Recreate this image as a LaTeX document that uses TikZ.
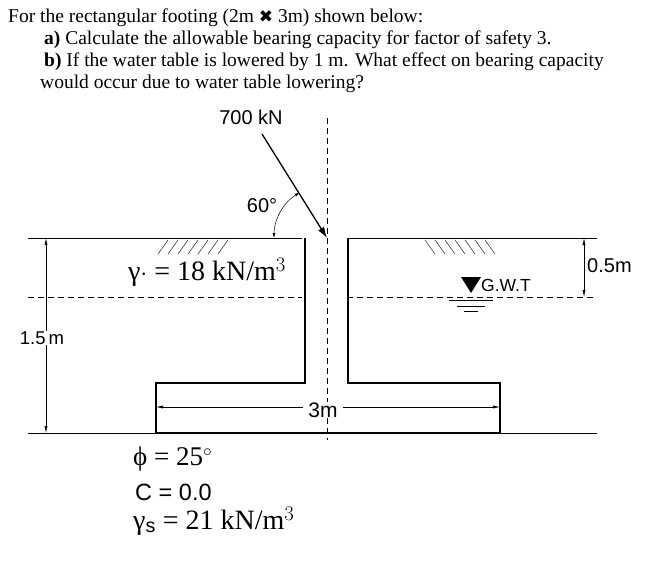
\documentclass[tikz,border=0pt]{standalone}
\usepackage{fontspec}
\setmainfont{Liberation Serif}
\newfontfamily\arialf{Liberation Sans}
\newfontfamily\djv{DejaVu Sans}
\usetikzlibrary{arrows.meta}
\newcommand{\fsz}[1]{\fontsize{#1pt}{#1pt}\selectfont}
\begin{document}
\begin{tikzpicture}[x=1pt,y=-1pt,
  lbl/.style={font=\arialf\fsz{20},inner sep=0},
  hd/.style={font=\fsz{19.5},inner sep=0,anchor=west},
  thick2/.style={line width=1.6pt},
  dim/.style={line width=0.5pt,{Latex[length=7pt,width=3pt]}-{Latex[length=7pt,width=3pt]}},
  gw/.style={dashed,dash pattern=on 6pt off 4pt,line width=0.5pt}]
\useasboundingbox (0,0) rectangle (652,581);
% header
\node[hd] (h1) at (8,18) {For the rectangular footing (2m {\djv\fsz{17}✖} 3m) shown below:};
\node[hd] (h2) at (44,40) {\textbf{a)} Calculate the allowable bearing capacity for factor of safety 3.};
\node[hd] (h3) at (44,62) {\textbf{b)} If the water table is lowered by 1 m. What effect on bearing capacity};
\node[hd] (h4) at (40,84) {would occur due to water table lowering?};
% ground
\coordinate (gl) at (28,238); \coordinate (gr) at (597,238);
\draw[line width=0.7pt] (gl) -- (302,238);
\draw[line width=0.7pt] (347,238) -- (gr);
\draw[line width=0.7pt] (28,433) -- (597,433);
% water table dashed
\draw[gw] (28,297) -- (302,297);
\draw[gw] (347,297) -- (597,297);
% hatches
\foreach \i in {0,...,6} \draw[line width=0.4pt] (158+\i*10,254) -- (168+\i*10,240);
\foreach \i in {0,...,6} \draw[line width=0.4pt] (425+\i*10,240) -- (435+\i*10,254);
% footing
\draw[thick2] (305,238) -- (305,383) -- (156,383) -- (156,433) -- (500,433) -- (500,383) -- (348,383) -- (348,238);
% centre line
\draw[gw] (327,118) -- (327,440);
% load
\node[lbl] (load) at (251,117) {700 kN};
\coordinate (tip) at (327,238);
\draw[line width=1.3pt,-{Latex[length=11pt,width=7pt]}] (262,134) -- (tip);
\draw[line width=0.5pt,{Latex[length=5pt,width=3pt]}-{Latex[length=5pt,width=3pt]}] (274,238) arc[start angle=180,end angle=239,radius=53];
\node[lbl] (ang) at (262,206) {60°};
% dims
\draw[dim] (46,238) -- (46,433);
\node[lbl,font=\arialf\fsz{18.5},fill=white,inner sep=1pt] (d15) at (42,338) {1.5\,m};
\draw[dim] (584,238) -- (584,297);
\node[lbl,anchor=west] (d05) at (587,266) {0.5m};
\draw[dim] (156,407) -- (500,407);
\node[lbl,font=\arialf\fsz{21},fill=white,inner xsep=5pt,inner ysep=1pt] (d3) at (323,410) {3m};
% GWT
\fill (461,277) -- (481,277) -- (471,293) -- cycle;
\node[lbl,anchor=west,font=\arialf\fsz{17.5}] (gwt) at (481,285) {G.W.T};
\draw[line width=0.5pt] (449,300) -- (493,300);
\draw[line width=0.5pt] (457,306) -- (485,306);
\draw[line width=0.5pt] (464,311) -- (478,311);
% soil labels
\node[inner sep=0,font=\fsz{28}] (gam) at (207,272) {γ$\cdot$ = 18 kN/m$^{3}$};
\node[inner sep=0,anchor=west,font=\fsz{27}] (phi) at (133,459) {ϕ = 25$^{\circ}$};
\node[inner sep=0,anchor=west,font=\arialf\fsz{23.5}] (c) at (135,492) {C = 0.0};
\node[inner sep=0,anchor=west,font=\fsz{28}] (gs) at (133,521) {γ\textsubscript{\arialf s} = 21 kN/m$^{3}$};
\end{tikzpicture}
\end{document}
